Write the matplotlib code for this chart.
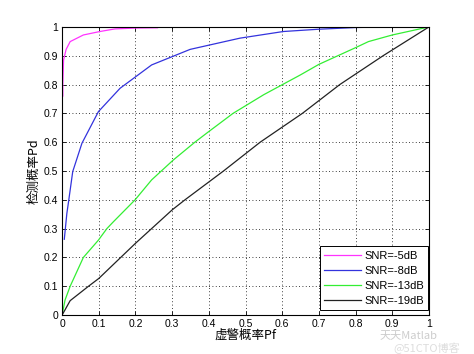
import matplotlib
matplotlib.use("Agg")
import matplotlib.pyplot as plt

plt.rcParams['font.family'] = ['Liberation Sans', 'Noto Sans CJK SC', 'DejaVu Sans']

# ROC curves (Pf, Pd)
pf_5 = [0.002, 0.002, 0.004, 0.011, 0.022, 0.058, 0.103, 0.144, 0.20, 0.26]
pd_5 = [0.76, 0.80, 0.885, 0.922, 0.949, 0.972, 0.984, 0.993, 0.996, 0.997]

pf_8 = [0.006, 0.013, 0.017, 0.029, 0.054, 0.099, 0.158, 0.244, 0.349, 0.485, 0.603, 0.70, 0.803, 0.853]
pd_8 = [0.263, 0.353, 0.388, 0.498, 0.596, 0.706, 0.787, 0.868, 0.922, 0.961, 0.984, 0.992, 0.998, 0.999]

pf_13 = [0.0, 0.008, 0.022, 0.058, 0.099, 0.122, 0.140, 0.199, 0.244, 0.303, 0.362, 0.399, 0.466, 0.55, 0.649, 0.70, 0.80, 0.835, 0.90, 1.0]
pd_13 = [0.0, 0.052, 0.10, 0.20, 0.26, 0.30, 0.324, 0.40, 0.469, 0.538, 0.60, 0.636, 0.70, 0.765, 0.833, 0.87, 0.928, 0.949, 0.972, 1.0]

pf_19 = [0.0, 0.022, 0.072, 0.10, 0.20, 0.30, 0.335, 0.44, 0.54, 0.655, 0.757, 0.875, 1.0]
pd_19 = [0.0, 0.05, 0.10, 0.127, 0.249, 0.365, 0.40, 0.50, 0.60, 0.70, 0.80, 0.90, 1.0]

labels = ['SNR=-5dB', 'SNR=-8dB', 'SNR=-13dB', 'SNR=-19dB']
ticks = [0, 0.1, 0.2, 0.3, 0.4, 0.5, 0.6, 0.7, 0.8, 0.9, 1]
tick_labels = ['0', '0.1', '0.2', '0.3', '0.4', '0.5', '0.6', '0.7', '0.8', '0.9', '1']

fig = plt.figure(figsize=(4.74, 3.54), dpi=100)
ax = fig.add_axes([0.131, 0.110, 0.774, 0.814])

ax.plot(pf_5, pd_5, color='#ff33ff', lw=0.9, label=labels[0])
ax.plot(pf_8, pd_8, color='#3333dd', lw=0.9, label=labels[1])
ax.plot(pf_13, pd_13, color='#33ee33', lw=0.9, label=labels[2])
ax.plot(pf_19, pd_19, color='#222222', lw=0.9, label=labels[3])

ax.set_xlim(0, 1)
ax.set_ylim(0, 1)
ax.set_xticks(ticks)
ax.set_xticklabels(tick_labels)
ax.set_yticks(ticks)
ax.set_yticklabels(tick_labels)
ax.tick_params(direction='in', length=3, width=0.6, labelsize=7.5, pad=3,
               top=True, right=True, colors='black')
ax.grid(True, color='black', linestyle=(0, (1, 3)), linewidth=0.6)
for s in ax.spines.values():
    s.set_linewidth(0.8)

ax.set_xlabel('虚警概率Pf', fontsize=9, labelpad=0,
              family=['Noto Sans CJK SC', 'DejaVu Sans'])
ax.set_ylabel('检测概率Pd', fontsize=9, labelpad=2,
              family=['Noto Sans CJK SC', 'DejaVu Sans'])

leg = ax.legend(loc='lower right', bbox_to_anchor=(0.998, 0.017), fontsize=8,
                fancybox=False, framealpha=1, edgecolor='black',
                borderaxespad=0, handlelength=3.3, labelspacing=0.45,
                handletextpad=0.3, borderpad=0.4)
leg.get_frame().set_linewidth(0.7)

# faint watermark
fig.text(0.80, 0.042, '天天Matlab', fontsize=8, color='#cccccc',
         family=['Noto Sans CJK SC', 'DejaVu Sans'])
fig.text(0.83, 0.006, '@51CTO博客', fontsize=8, color='#dddddd',
         family=['Noto Sans CJK SC', 'DejaVu Sans'])

fig.savefig('out.png', dpi=100)
